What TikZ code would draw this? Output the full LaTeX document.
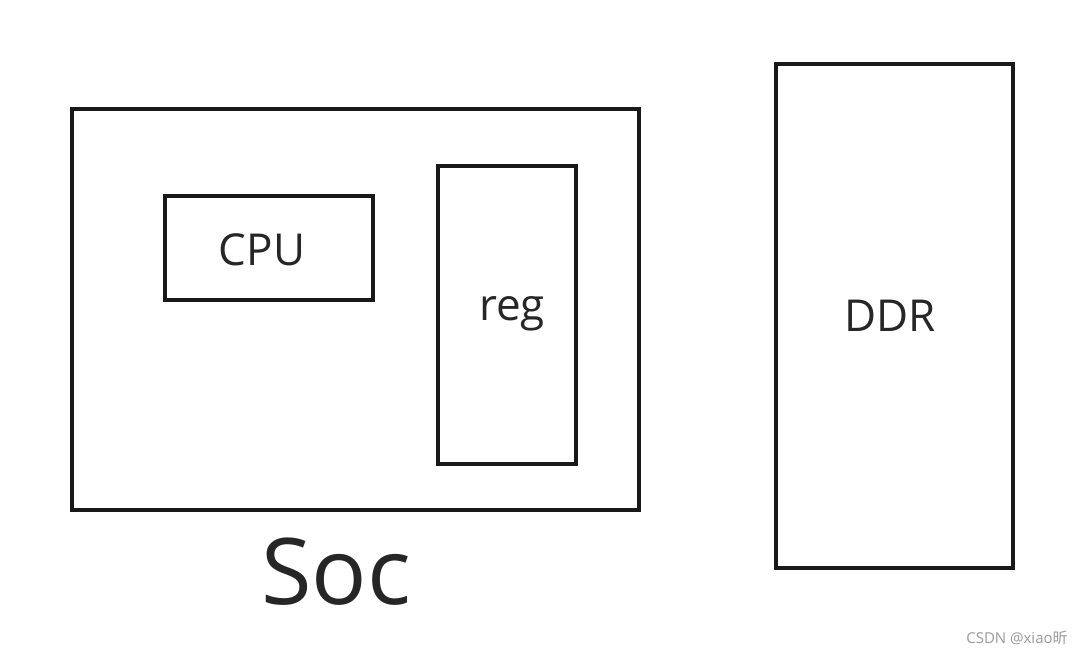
\documentclass[tikz,border=0pt]{standalone}
\usepackage{fontspec}
\setmainfont{Open Sans}
\newfontfamily\cjk{Noto Sans CJK SC}
\begin{document}
\begin{tikzpicture}[x=1pt,y=-1pt,
  box/.style={draw=black!90,line width=3.2pt},
  lbl/.style={text=black!85,inner sep=0pt,font=\fontsize{44}{48}\selectfont}]
\useasboundingbox (0,0) rectangle (1088,656);
\draw[box] (72,109) rectangle (639,510) coordinate (socbr);
\node[box,minimum width=208pt,minimum height=104pt,inner sep=0pt] (cpu) at (269,248) {};
\node[box,minimum width=138pt,minimum height=298pt,inner sep=0pt] (reg) at (507,315) {};
\node[box,minimum width=237pt,minimum height=504pt,inner sep=0pt] (ddr) at (894.5,316) {};
\node[lbl] (cput) at (262,250) {CPU};
\node[lbl] (regt) at (512,314) {reg};
\node[lbl] (ddrt) at (890,316) {DDR};
\node[lbl,font=\fontsize{92}{96}\selectfont] (soc) at (336,572) {Soc};
\node[text=black!40,inner sep=0pt,font=\fontsize{15}{16}\selectfont] (wm) at (1017,638) {CSDN @xiao{\cjk 昕}};
\end{tikzpicture}
\end{document}
